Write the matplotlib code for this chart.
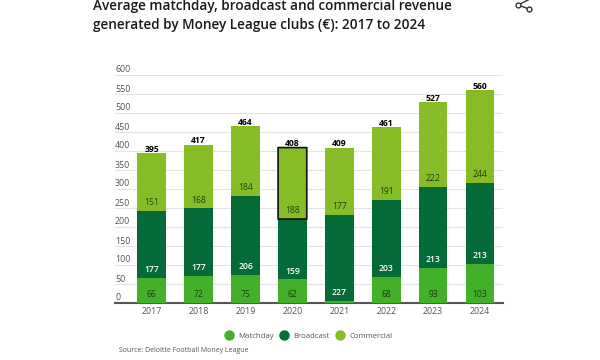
import matplotlib
matplotlib.use('Agg')
import matplotlib.pyplot as plt
from matplotlib.lines import Line2D
from matplotlib.patches import FancyBboxPatch
import numpy as np

plt.rcParams['font.family'] = ['Open Sans', 'DejaVu Sans']

years = ['2017', '2018', '2019', '2020', '2021', '2022', '2023', '2024']
matchday = [66, 72, 75, 62, 5, 68, 93, 103]
broadcast = [177, 177, 206, 159, 227, 203, 213, 213]
commercial = [151, 168, 184, 188, 177, 191, 222, 244]
totals = [395, 417, 464, 408, 409, 461, 527, 560]
matchday_labels = ['66', '72', '75', '62', '', '68', '93', '103']
y_ticks = list(range(0, 650, 50))

GREEN = '#43B02A'
DARK = '#046A38'
LIME = '#86BC25'
W, H = 600, 360

fig = plt.figure(figsize=(6, 3.6), dpi=100)
ax = fig.add_axes([115/W, 1-303/H, (503-115)/W, (303-75)/H])

x = np.arange(len(years))
m = np.array(matchday)
b = np.array(broadcast)
c = np.array(commercial)
width = 0.612

ax.bar(x, m, width, color=GREEN, zorder=3)
ax.bar(x, b, width, bottom=m, color=DARK, zorder=3)
bars = ax.bar(x, c, width, bottom=m+b, color=LIME, zorder=3)

# highlighted 2020 bar, rounded black box
r = bars[years.index('2020')]
ax.add_patch(FancyBboxPatch((r.get_x(), r.get_y()), r.get_width(), r.get_height(),
                            boxstyle='round,pad=0,rounding_size=0.03', mutation_aspect=8,
                            fc='none', ec='#111111', lw=1.2, zorder=4))

for i in x:
    ax.annotate(matchday_labels[i], (i, 0), xytext=(0, 6), textcoords='offset points',
                ha='center', va='center', fontsize=6.2, color='#1f3d14', zorder=5)
    ax.annotate(str(broadcast[i]), (i, m[i]), xytext=(0, 6), textcoords='offset points',
                ha='center', va='center', fontsize=6.2, color='white', fontweight='semibold', zorder=5)
    ax.annotate(str(commercial[i]), (i, m[i]+b[i]), xytext=(0, 6), textcoords='offset points',
                ha='center', va='center', fontsize=6.2, color='#24400f', zorder=5)
    ax.annotate(str(totals[i]), (i, m[i]+b[i]+c[i]), xytext=(0, 3), textcoords='offset points',
                ha='center', va='center', fontsize=6.2, color='black', fontweight='bold', zorder=5)

ax.set_xlim(-0.783, 7.49)
ax.set_ylim(0, 600)
ax.set_xticks(x)
ax.set_xticklabels(years, fontsize=6.4, color='#53565A')
ax.set_yticks(y_ticks)
ax.set_yticklabels([])
ax.tick_params(length=0, pad=2.6)
ax.grid(axis='y', color='#E3E3E3', lw=0.8, zorder=0)
ax.set_axisbelow(True)
for s in ['top', 'right', 'left']:
    ax.spines[s].set_visible(False)
ax.spines['bottom'].set_color('#53565A')
ax.spines['bottom'].set_linewidth(1.5)

# y labels sit just above the gridlines, left aligned
for t in y_ticks:
    ax.annotate(str(t), (0, t), xycoords=ax.get_yaxis_transform(), xytext=(0, 3.6),
                textcoords='offset points', ha='left', va='center', fontsize=6.4,
                color='#53565A', zorder=2)

fig.text(93/W, 1-10/H, 'Average matchday, broadcast and commercial revenue',
         fontsize=9.8, fontweight='semibold', color='#1a1a1a', va='baseline')
fig.text(93/W, 1-29/H, 'generated by Money League clubs (€): 2017 to 2024',
         fontsize=9.8, fontweight='semibold', color='#1a1a1a', va='baseline')

handles = [Line2D([], [], ls='', marker='o', ms=6.5, color=col) for col in [GREEN, DARK, LIME]]
fig.legend(handles, ['Matchday', 'Broadcast', 'Commercial'], ncol=3, frameon=False,
           loc='center', bbox_to_anchor=(307/W, 1-336/H), fontsize=5.6, labelcolor='#53565A',
           columnspacing=0.35, handletextpad=0.2)

fig.text(119/W, 1-350/H, 'Source: Deloitte Football Money League', fontsize=5.05,
         color='#53565A', va='center')

# share icon, cut off by the top edge
pts = [(530, -1), (518, 5), (529, 9)]
fig.add_artist(Line2D([p[0]/W for p in pts], [1-p[1]/H for p in pts], color='#333333', lw=1))
for px, py in pts[1:]:
    fig.add_artist(Line2D([px/W], [1-py/H], ls='', marker='o', ms=3.5, mfc='white', mec='#333333', mew=1))

plt.savefig('out.png', dpi=100)
